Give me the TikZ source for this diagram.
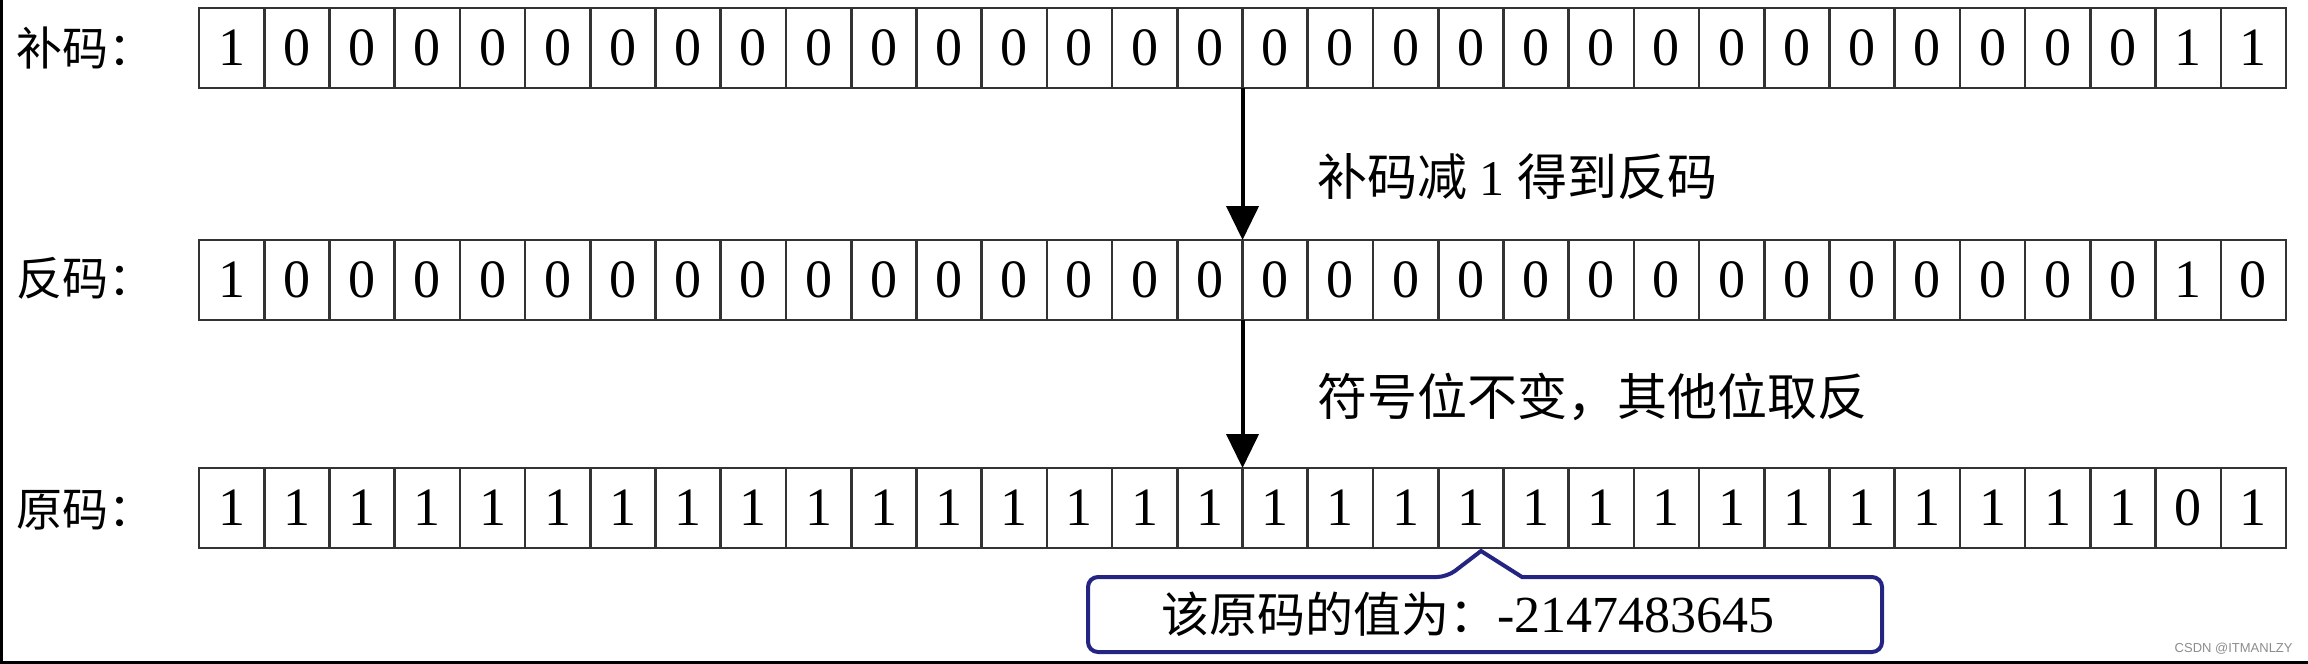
\documentclass[tikz,border=0pt]{standalone}
\usepackage{fontspec}
\setmainfont{Liberation Serif}
\newfontfamily\cjk{Noto Sans CJK SC}
\newfontfamily\wmfont{Liberation Sans}
\usetikzlibrary{arrows.meta}
\definecolor{calloutblue}{RGB}{36,36,130}

\begin{document}
\begin{tikzpicture}[x=0.5pt,y=-0.5pt,
  bit/.style={draw=black!80,line width=1.3pt,minimum width=32.61pt,minimum height=40pt,inner sep=0pt,outer sep=0pt,font=\fontsize{27}{27}\selectfont},
  rowlabel/.style={anchor=west,inner sep=0pt,font=\cjk\fontsize{23}{23}\selectfont},
  steptext/.style={anchor=west,inner sep=0pt,font=\fontsize{25}{25}\selectfont},
  flow/.style={-{Triangle[width=16pt,length=17pt]},line width=2pt},
  callout/.style={draw=calloutblue,line width=2pt}]
  \useasboundingbox (0,0) rectangle (2308,664);
  % screenshot edges
  \fill[black] (0,0) rectangle (3,664);
  \fill[black] (0,661) rectangle (2308,664);
  % the three rows of bits
  \node[rowlabel] (lbu) at (16,48) {补码：};
  \foreach \b [count=\i] in {1,0,0,0,0,0,0,0,0,0,0,0,0,0,0,0,0,0,0,0,0,0,0,0,0,0,0,0,0,0,1,1}
    \node[bit] (bu-\i) at (166.4+65.22*\i,48) {\b};
  \node[rowlabel] (lfan) at (16,278) {反码：};
  \foreach \b [count=\i] in {1,0,0,0,0,0,0,0,0,0,0,0,0,0,0,0,0,0,0,0,0,0,0,0,0,0,0,0,0,0,1,0}
    \node[bit] (fan-\i) at (166.4+65.22*\i,280) {\b};
  \node[rowlabel] (lyuan) at (16,510) {原码：};
  \foreach \b [count=\i] in {1,1,1,1,1,1,1,1,1,1,1,1,1,1,1,1,1,1,1,1,1,1,1,1,1,1,1,1,1,1,0,1}
    \node[bit] (yuan-\i) at (166.4+65.22*\i,508) {\b};
  % steps
  \draw[flow] (bu-16.south east) -- (fan-16.north east);
  \node[steptext] (t1) at (1317,177) {{\cjk 补码减} 1 {\cjk 得到反码}};
  \draw[flow] (fan-16.south east) -- (yuan-16.north east);
  \node[steptext] (t2) at (1317,397) {\cjk 符号位不变，其他位取反};
  % value callout
  \coordinate (tip) at (1481,551);
  \draw[callout] (1485,652) [rounded corners=5pt] -- (1088,652) -- (1088,577) -- (1447,577)
    [sharp corners] -- (tip) -- (1522,577) [rounded corners=5pt] -- (1882,577) -- (1882,652) -- cycle;
  \node[font=\fontsize{26}{26}\selectfont] (val) at (1468,614) {{\cjk\fontsize{24}{24}\selectfont 该原码的值为：}-2147483645};
  \node[anchor=east,inner sep=0pt,text=black!45,font=\wmfont\fontsize{6.5}{6.5}\selectfont] (mark) at (2293,649) {CSDN @ITMANLZY};
\end{tikzpicture}
\end{document}
